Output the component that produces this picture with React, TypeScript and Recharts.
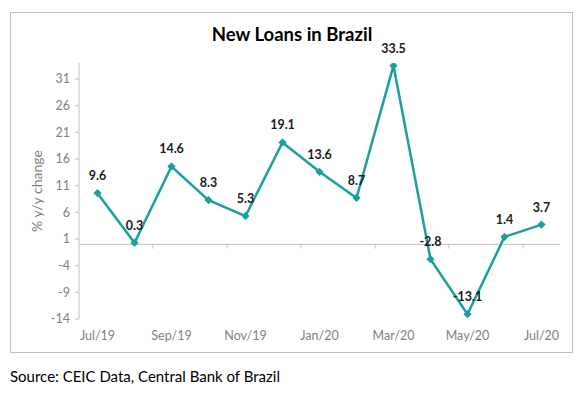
import React from 'react';
import { LineChart, Line, XAxis, YAxis, ReferenceLine, LabelList } from 'recharts';

const months = ['Jul/19','Aug/19','Sep/19','Oct/19','Nov/19','Dec/19','Jan/20','Feb/20','Mar/20','Apr/20','May/20','Jun/20','Jul/20'];
const loans = [9.6, 0.3, 14.6, 8.3, 5.3, 19.1, 13.6, 8.7, 33.5, -2.8, -13.1, 1.4, 3.7];
const yTicks = [-14, -9, -4, 1, 6, 11, 16, 21, 26, 31];
const yDomain = [-14, 34];
const tickMarkMonths = months.filter((_, i) => i > 0 && i % 2 === 0);

const data = months.map((m, i) => ({ month: m, value: loans[i] }));

const FONT = 'Lato, "Open Sans", sans-serif';
const TEAL = '#19A09C';
const GREY = '#7F7F7F';
const AXIS = '#BFBFBF';

const Diamond = (props: any) => {
  const { cx, cy } = props;
  if (cx == null || cy == null) return null;
  const r = 3.6;
  return <path d={`M${cx},${cy - r}L${cx + r},${cy}L${cx},${cy + r}L${cx - r},${cy}Z`} fill={TEAL} stroke={TEAL} />;
};

const YLabel = (props: any) => {
  const vb = props.viewBox || {};
  const x = vb.x + 17;
  const y = vb.y + vb.height / 2;
  return (
    <text x={x} y={y} transform={`rotate(-90, ${x}, ${y})`} textAnchor="middle" dominantBaseline="central" fill={GREY} fontSize={14} fontFamily={FONT}>
      % y/y change
    </text>
  );
};

export default function App() {
  return (
    <div style={{ position: 'absolute', left: 0, top: 0, width: 584, height: 400, background: '#fff', fontFamily: FONT }}>
      <div style={{ position: 'absolute', left: 10, top: 12, width: 563, height: 341, border: '1px solid #BFBFBF', boxSizing: 'border-box' as any }} />
      <div style={{ position: 'absolute', left: 0, top: 23, width: 584, textAlign: 'center', fontSize: 18.5, fontWeight: 700, color: '#000', lineHeight: '22px' }}>
        New Loans in Brazil
      </div>
      <div style={{ position: 'absolute', left: 0, top: 0 }}>
        <LineChart width={584} height={400} data={data} margin={{ top: 63, right: 24, bottom: 61, left: 19 }}>
          <YAxis
            type="number"
            domain={yDomain}
            ticks={yTicks}
            allowDataOverflow
            width={60}
            axisLine={{ stroke: AXIS }}
            tickLine={{ stroke: AXIS }}
            tickSize={4}
            tickMargin={5}
            tick={{ fill: GREY, fontSize: 12.5, fontFamily: FONT }}
            label={<YLabel />}
          />
          <XAxis
            dataKey="month"
            scale="band"
            height={20}
            axisLine={false}
            tickLine={false}
            interval={1}
            tickMargin={6}
            tick={{ fill: GREY, fontSize: 12.5, fontFamily: FONT }}
          />
          <ReferenceLine y={0} stroke={AXIS} strokeWidth={1} />
          {tickMarkMonths.map((m) => (
            <ReferenceLine
              key={m}
              position="start"
              segment={[{ x: m, y: 0 }, { x: m, y: -0.8 }]}
              stroke={AXIS}
              strokeWidth={1}
            />
          ))}
          <Line
            type="linear"
            dataKey="value"
            stroke={TEAL}
            strokeWidth={2.5}
            dot={<Diamond />}
            activeDot={false}
            isAnimationActive={false}
          >
            <LabelList dataKey="value" position="top" offset={13} fill="#1a1a1a" fontSize={12.5} fontWeight={700} fontFamily={FONT} />
          </Line>
        </LineChart>
      </div>
      <div style={{ position: 'absolute', left: 10, top: 366, fontSize: 15, color: '#000', lineHeight: '20px', whiteSpace: 'nowrap' }}>
        Source: CEIC Data, Central Bank of Brazil
      </div>
    </div>
  );
}
